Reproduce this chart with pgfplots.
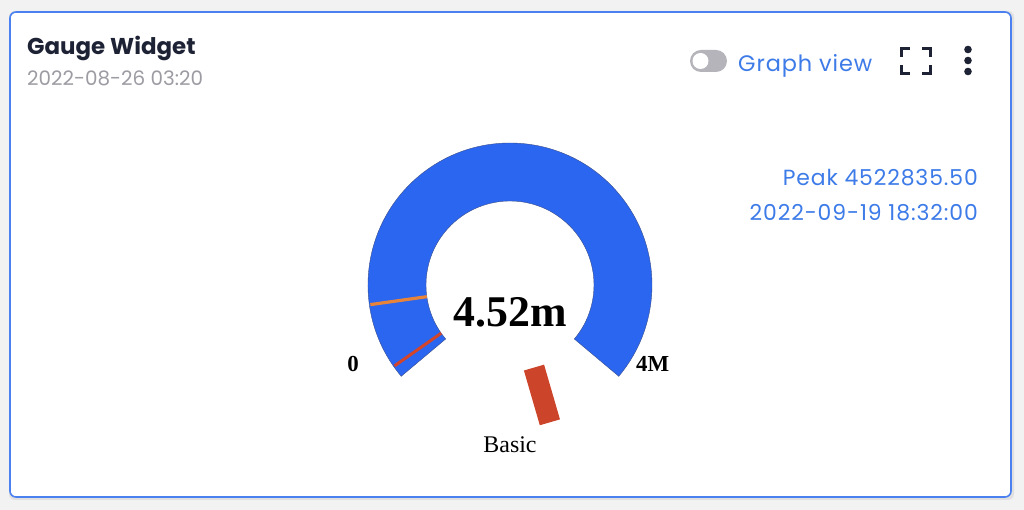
\documentclass[border=0pt]{standalone}
\usepackage{pgfplots}
\pgfplotsset{compat=1.18}
\usepackage{fontspec}
\setmainfont{Liberation Serif}
\newfontfamily\uifont{Poppins}
\newfontfamily\uiwide{Poppins}[LetterSpace=4]
\definecolor{pagebg}{HTML}{F2F2F3}
\definecolor{cardline}{HTML}{4A80F0}
\definecolor{gaugeblue}{HTML}{2B66F1}
\definecolor{gaugeedge}{HTML}{3A4E8A}
\definecolor{thrlow}{HTML}{D2452B}
\definecolor{thrmid}{HTML}{E8843A}
\definecolor{needle}{HTML}{CC4429}
\definecolor{linkblue}{HTML}{3D7BE8}
\definecolor{titleink}{HTML}{1E2235}
\definecolor{subgray}{HTML}{9C9CA3}
\definecolor{togglegray}{HTML}{B4B4BA}

\begin{document}
\begin{tikzpicture}
% page and card, in pixel units (y down)
\begin{scope}[x=1bp,y=-1bp,shift={(0,510bp)}]
  \fill[pagebg] (0,0) rectangle (1024,510);
  \fill[black!12,rounded corners=6bp] (9,11) rectangle (1014,500);
  \filldraw[fill=white,draw=cardline,line width=1.6bp,rounded corners=6bp] (10,12) rectangle (1011,497);
\end{scope}
\begin{axis}[
  ,width=1024bp
  ,height=510bp
  ,scale only axis
  ,xmin=-510, xmax=514
  ,ymin=-225, ymax=285
  ,hide axis
  ,clip=false
  ]
  % gauge band: 0 .. 4M mapped onto 220 .. -40 degrees
  \fill[gaugeblue,draw=gaugeedge,line width=0.4bp]
    (axis cs:0,0) ++(220:142bp) arc[start angle=220,end angle=-40,radius=142bp]
    -- ++(140:58bp) arc[start angle=-40,end angle=220,radius=84bp] -- cycle;
  % threshold markers (angle, radius)
  \addplot[thrmid,line width=3.2bp,data cs=polar] coordinates {(188,84) (188,141)};
  \addplot[thrlow,line width=3bp,data cs=polar] coordinates {(215,84) (215,141)};
  % needle at 4.52m -> 220 - 260*4.52/4 = -73.8 degrees
  \addplot[needle,line width=21bp,data cs=polar] coordinates {(-73.8,86) (-73.8,143)};
\end{axis}
\begin{scope}[x=1bp,y=-1bp,shift={(0,510bp)}]
  % header
  \node[anchor=base west,inner sep=0,text=titleink,font=\uifont\bfseries\fontsize{23}{26}\selectfont] at (27,55) {Gauge Widget};
  \node[anchor=base west,inner sep=0,text=subgray,font=\uifont\fontsize{20}{24}\selectfont] at (27,86) {2022-08-26 03:20};
  % toggle
  \fill[togglegray,rounded corners=11bp] (690,50) rectangle (727,72);
  \fill[white] (700.5,61) circle[radius=8];
  \node[anchor=base west,inner sep=0,text=linkblue,font=\uiwide\fontsize{22.5}{26}\selectfont] at (738,72) {Graph view};
  % full screen icon
  \begin{scope}[titleink,line width=3bp,line cap=butt]
    \draw (901.5,57) -- (901.5,48.5) -- (910,48.5);
    \draw (922,48.5) -- (930.5,48.5) -- (930.5,57);
    \draw (901.5,65) -- (901.5,73.5) -- (910,73.5);
    \draw (922,73.5) -- (930.5,73.5) -- (930.5,65);
  \end{scope}
  % kebab menu
  \fill[titleink] (968,49.5) circle[radius=3.8] (968,60.5) circle[radius=3.8] (968,71.5) circle[radius=3.8];
  % peak info
  \node[anchor=base east,inner sep=0,text=linkblue,font=\uiwide\fontsize{22}{26}\selectfont] at (978,186) {Peak 4522835.50};
  \node[anchor=base east,inner sep=0,text=linkblue,font=\uiwide\fontsize{22}{26}\selectfont] at (978,221) {2022-09-19 18:32:00};
  % gauge labels
  \node[anchor=base,inner sep=0,font=\bfseries\fontsize{44}{48}\selectfont] at (510,327) {4.52m};
  \node[anchor=base,inner sep=0,font=\bfseries\fontsize{23}{26}\selectfont] at (353,372) {0};
  \node[anchor=base west,inner sep=0,font=\bfseries\fontsize{23}{26}\selectfont] at (636,372) {4M};
  \node[anchor=base,inner sep=0,font=\fontsize{24}{28}\selectfont] at (510,453) {Basic};
\end{scope}
\pgfresetboundingbox
\path[use as bounding box] (0,0) rectangle (1024bp,510bp);
\end{tikzpicture}
\end{document}
